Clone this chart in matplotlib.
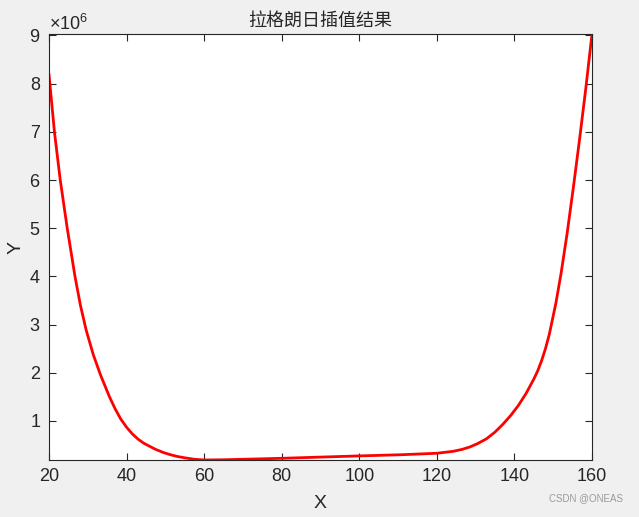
import numpy as np
import matplotlib
matplotlib.use('Agg')
import matplotlib.pyplot as plt

# points (x, y in units of 1e6)
xs = [20, 21.4, 22.9, 24.7, 26.7, 28.1, 29.6, 31.4, 33.3, 35.6, 37, 38.5, 40,
      41.5, 43, 44.5, 47.5, 49.5, 51.3, 53, 55, 57.5, 60, 65, 70, 80, 90, 100,
      111, 120, 124.2, 126.5, 128.5, 130.5, 132.8, 135, 137, 139, 141, 143, 145,
      146, 147, 148, 149, 150.7, 152, 153.6, 155.2, 156.8, 158.4, 160]
ys_m = [8.19, 7.0, 6.0, 5.0, 4.0, 3.4, 2.88, 2.38, 1.95, 1.5, 1.26, 1.04, 0.87,
        0.73, 0.62, 0.535, 0.41, 0.345, 0.30, 0.265, 0.235, 0.205, 0.19, 0.195,
        0.205, 0.225, 0.25, 0.275, 0.30, 0.33, 0.37, 0.41, 0.46, 0.53, 0.63,
        0.77, 0.93, 1.11, 1.32, 1.57, 1.87, 2.04, 2.25, 2.5, 2.8, 3.45, 4.05,
        4.9, 5.85, 6.85, 7.9, 9.03]
ys = np.array(ys_m) * 1e6

xticks = [20, 40, 60, 80, 100, 120, 140, 160]
yticks = np.arange(1, 10) * 1e6

plt.rcParams['font.family'] = ['Liberation Sans', 'Noto Sans CJK SC', 'DejaVu Sans']
plt.rcParams['mathtext.fontset'] = 'custom'
plt.rcParams['mathtext.rm'] = 'Liberation Sans'

fig = plt.figure(figsize=(6.39, 5.17), dpi=100, facecolor='#f0f0f0')
ax = fig.add_axes([49 / 639, 57 / 517, 543 / 639, 426 / 517])
ax.plot(xs, ys, color='red', linewidth=2, solid_joinstyle='round')
ax.set_xlim(20, 160)
ax.set_ylim(min(ys), max(ys))
ax.set_xticks(xticks)
ax.set_yticks(yticks)
ax.ticklabel_format(axis='y', style='sci', scilimits=(6, 6), useMathText=True)
ax.tick_params(direction='in', top=True, right=True, length=5, width=0.8,
               labelsize=13, colors='#262626', pad=6)
for s in ax.spines.values():
    s.set_color('#262626')
    s.set_linewidth(0.8)
ax.yaxis.get_offset_text().set_fontsize(13)
ax.yaxis.get_offset_text().set_color('#262626')

ax.set_xlabel('X', fontsize=14, color='#262626', labelpad=7)
ax.set_ylabel('Y', fontsize=14, color='#262626', labelpad=3)
ax.set_title('拉格朗日插值结果', fontsize=13, color='#262626',
             family=['Noto Sans CJK SC'], pad=6)

fig.text(0.975, 0.027, 'CSDN @ONEAS', fontsize=7, color='#9a9a9a', ha='right', va='bottom')

fig.savefig('out.png', dpi=100, facecolor=fig.get_facecolor())
